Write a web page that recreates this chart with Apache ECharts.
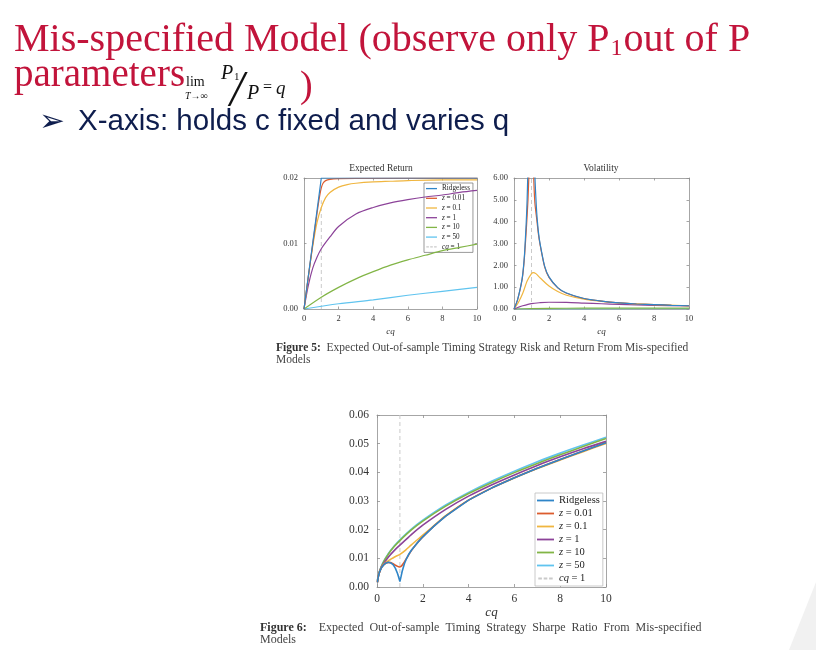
<!DOCTYPE html>
<html>
<head>
<meta charset="utf-8">
<script src="https://cdn.jsdelivr.net/npm/echarts@6/dist/echarts.min.js"></script>
<style>
html,body{margin:0;padding:0;background:#fff;}
#c{width:816px;height:650px;}
</style>
</head>
<body>
<div id="c"></div>
<script>
// ---------- data ----------
const seriesNames = ['Ridgeless', 'z = 0.01', 'z = 0.1', 'z = 1', 'z = 10', 'z = 50', 'cq = 1'];
const seriesColors = ['#2f85c8', '#dc5c2e', '#f0b640', '#8c4399', '#82b546', '#60c4ef', '#cacaca'];
const cqTicks = [0, 2, 4, 6, 8, 10];

// Figure 5 (left): Expected Return
const erRidgeless = [[0,0],[1,0.02],[10,0.02]];
const erZ001 = [[0,0],[0.5,0.0098],[0.8,0.0155],[0.9,0.0172],[1.0,0.0185],[1.1,0.0192],[1.25,0.0196],[1.5,0.0198],[2,0.0199],[3,0.01995],[10,0.02]];
const erZ01 = [[0,0],[0.25,0.0049],[0.5,0.0095],[0.75,0.0132],[1.0,0.0155],[1.25,0.017],[1.5,0.0178],[2,0.0186],[2.5,0.019],[3,0.0192],[4,0.0194],[5,0.0195],[6,0.0196],[8,0.0197],[10,0.0197]];
const erZ1 = [[0,0],[0.25,0.0036],[0.5,0.0062],[0.75,0.0079],[1,0.0092],[1.5,0.011],[2,0.0126],[3,0.0145],[4,0.0155],[5,0.0162],[6,0.0167],[7,0.0171],[8,0.0174],[9,0.0178],[10,0.0181]];
const erZ10 = [[0,0],[1,0.0018],[2,0.0033],[3,0.0046],[4,0.0057],[5,0.0067],[6,0.0075],[7,0.0082],[8,0.0089],[9,0.0094],[10,0.0099]];
const erZ50 = [[0,0],[2,0.0008],[4,0.0014],[6,0.0021],[8,0.0027],[10,0.0033]];
const erCqLine = [[1,0],[1,0.0166]];

// Figure 5 (right): Volatility
const volRidgeless = [[0,0],[0.2,0.42],[0.4,1.1],[0.5,1.6],[0.6,2.5],[0.7,4.0],[0.75,5.0],[0.8,6.6],[0.85,9],[1,'-'],[1.15,9],[1.2,6.0],[1.25,5.1],[1.3,4.4],[1.4,3.5],[1.5,2.95],[1.75,1.96],[2,1.47],[2.5,0.98],[3,0.73],[4,0.48],[5,0.36],[6,0.28],[7,0.23],[8,0.2],[9,0.17],[10,0.15]];
const volZ001 = [[0,0],[0.2,0.41],[0.4,1.08],[0.5,1.55],[0.6,2.4],[0.7,3.6],[0.8,5.0],[0.9,7.2],[1.0,9],[1.1,6.6],[1.15,5.5],[1.2,4.8],[1.3,4.1],[1.4,3.4],[1.5,2.9],[1.75,1.93],[2,1.45],[2.5,0.97],[3,0.72],[4,0.48],[5,0.36],[6,0.28],[7,0.23],[8,0.2],[9,0.17],[10,0.15]];
const volZ01 = [[0,0],[0.25,0.3],[0.5,0.72],[0.75,1.28],[1.0,1.62],[1.1,1.67],[1.25,1.62],[1.5,1.42],[2,1.05],[2.5,0.8],[3,0.63],[4,0.45],[5,0.35],[6,0.28],[8,0.2],[10,0.15]];
const volZ1 = [[0,0],[0.25,0.08],[0.5,0.15],[1,0.25],[1.5,0.29],[2,0.31],[3,0.3],[4,0.27],[5,0.24],[6,0.21],[8,0.17],[10,0.14]];
const volZ10 = [[0,0],[1,0.02],[3,0.035],[5,0.04],[10,0.04]];
const volZ50 = [[0,0],[5,0.01],[10,0.015]];
const volCqLine = [[1,0],[1,6]];

// Figure 6: Sharpe Ratio
const srRidgeless = [[0.02,0.0016],[0.05,0.0033],[0.1,0.0049],[0.15,0.006],[0.2,0.0068],[0.3,0.0078],[0.4,0.0084],[0.5,0.0086],[0.6,0.0084],[0.7,0.0078],[0.8,0.0066],[0.9,0.0046],[0.95,0.0033],[1.0,0.0019],[1.05,0.0036],[1.1,0.0055],[1.2,0.0082],[1.3,0.0101],[1.4,0.0116],[1.5,0.0128],[1.75,0.0153],[2,0.0175],[2.5,0.0213],[3,0.0247],[4,0.0303],[5,0.0345],[6,0.0381],[7,0.0414],[8,0.0445],[9,0.0474],[10,0.0503]];
const srZ001 = [[0.02,0.0016],[0.05,0.0033],[0.1,0.0049],[0.2,0.0068],[0.3,0.0078],[0.4,0.0084],[0.5,0.0086],[0.6,0.0085],[0.7,0.0081],[0.8,0.0076],[0.9,0.0072],[0.97,0.007],[1.05,0.0072],[1.15,0.0082],[1.3,0.0101],[1.5,0.0127],[1.75,0.0153],[2,0.0175],[2.5,0.0213],[3,0.0247],[4,0.0303],[5,0.0345],[6,0.0381],[7,0.0414],[8,0.0445],[9,0.0474],[10,0.0504]];
const srZ01 = [[0.02,0.0017],[0.05,0.0034],[0.1,0.005],[0.2,0.0069],[0.3,0.008],[0.4,0.0087],[0.5,0.0092],[0.6,0.0097],[0.75,0.0104],[1,0.0114],[1.25,0.0129],[1.5,0.0147],[1.75,0.0164],[2,0.0181],[2.5,0.0215],[3,0.0249],[4,0.0303],[5,0.0345],[6,0.038],[7,0.0413],[8,0.0443],[9,0.0472],[10,0.0501]];
const srZ1 = [[0.02,0.0018],[0.05,0.0035],[0.1,0.0051],[0.2,0.0071],[0.3,0.0083],[0.5,0.0105],[0.75,0.0127],[1,0.0146],[1.5,0.0183],[2,0.0216],[3,0.0271],[4,0.0317],[5,0.0356],[6,0.0391],[7,0.0424],[8,0.0454],[9,0.0482],[10,0.0508]];
const srZ10 = [[0.02,0.0022],[0.05,0.0036],[0.1,0.0052],[0.25,0.0082],[0.5,0.0115],[0.75,0.0141],[1,0.0162],[1.5,0.0199],[2,0.023],[3,0.0282],[4,0.0326],[5,0.0364],[6,0.0399],[7,0.0431],[8,0.0461],[9,0.049],[10,0.0518]];
const srZ50 = [[0.02,0.0023],[0.05,0.0037],[0.1,0.0053],[0.25,0.0083],[0.5,0.0117],[0.75,0.0143],[1,0.0165],[1.5,0.0202],[2,0.0233],[3,0.0286],[4,0.033],[5,0.0369],[6,0.0404],[7,0.0437],[8,0.0467],[9,0.0495],[10,0.0522]];
const srCqLine = [[1,0],[1,0.06]];

// ---------- build ----------
const SERIF = '"Liberation Serif", "DejaVu Serif", serif';
const SANS = '"Liberation Sans", Arial, sans-serif';
const AXC = '#8f8f8f';
const chart = echarts.init(document.getElementById('c'), null, {renderer: 'canvas'});

const grids = [
  {left: 304, top: 178, width: 173, height: 131},
  {left: 514, top: 178, width: 175, height: 131},
  {left: 377, top: 415, width: 229, height: 172}
];
const yCfg = [
  {max: 0.02, interval: 0.01, fs: 8.5},
  {max: 6, interval: 1, fs: 8.5},
  {max: 0.06, interval: 0.01, fs: 11.5}
];
const xFs = [8.5, 8.5, 11.5];
const nameFs = [9, 9, 13];

const xAxes = [], yAxes = [];
grids.forEach((g, i) => {
  const tickLen = i === 2 ? 3 : 2.5;
  xAxes.push({
    gridIndex: i, type: 'value', min: 0, max: 10, interval: 2, position: 'bottom',
    name: 'cq', nameLocation: 'middle', nameGap: i === 2 ? 19 : 18,
    nameTextStyle: {fontFamily: SERIF, fontStyle: 'italic', fontSize: nameFs[i], color: '#333'},
    axisLine: {show: true, onZero: false, lineStyle: {color: AXC, width: 0.8}},
    axisTick: {show: true, inside: true, length: tickLen, lineStyle: {color: AXC, width: 0.8}},
    axisLabel: {fontFamily: SERIF, fontSize: xFs[i], color: '#333', margin: i === 2 ? 6 : 5,
      formatter: v => cqTicks.indexOf(v) >= 0 ? String(v) : ''},
    splitLine: {show: false}
  });
  xAxes.push({
    gridIndex: i, type: 'value', min: 0, max: 10, interval: 2, position: 'top',
    axisLine: {show: true, onZero: false, lineStyle: {color: AXC, width: 0.8}},
    axisTick: {show: true, inside: true, length: tickLen, lineStyle: {color: AXC, width: 0.8}},
    axisLabel: {show: false}, splitLine: {show: false}
  });
  yAxes.push({
    gridIndex: i, type: 'value', min: 0, max: yCfg[i].max, interval: yCfg[i].interval, position: 'left',
    axisLine: {show: true, onZero: false, lineStyle: {color: AXC, width: 0.8}},
    axisTick: {show: true, inside: true, length: tickLen, lineStyle: {color: AXC, width: 0.8}},
    axisLabel: {fontFamily: SERIF, fontSize: yCfg[i].fs, color: '#333', margin: i === 2 ? 8 : 6,
      formatter: v => v.toFixed(2)},
    splitLine: {show: false}
  });
  yAxes.push({
    gridIndex: i, type: 'value', min: 0, max: yCfg[i].max, interval: yCfg[i].interval, position: 'right',
    axisLine: {show: true, onZero: false, lineStyle: {color: AXC, width: 0.8}},
    axisTick: {show: true, inside: true, length: tickLen, lineStyle: {color: AXC, width: 0.8}},
    axisLabel: {show: false}, splitLine: {show: false}
  });
});

function mk(name, data, gi, opts) {
  opts = opts || {};
  const idx = seriesNames.indexOf(name);
  const dashed = name === 'cq = 1';
  return {
    name: name, type: 'line', data: data,
    xAxisIndex: gi * 2, yAxisIndex: gi * 2,
    symbol: 'none', showSymbol: false, smooth: opts.smooth === undefined ? 0.3 : opts.smooth,
    clip: true, connectNulls: false, animation: false,
    z: dashed ? 1 : 2 + (6 - idx),
    lineStyle: {color: seriesColors[idx], width: dashed ? 1 : (gi === 2 ? 1.6 : 1.2), type: dashed ? [4, 3] : 'solid'},
    itemStyle: {color: seriesColors[idx]}
  };
}

const series = [
  mk('cq = 1', erCqLine, 0, {smooth: false}),
  mk('Ridgeless', erRidgeless, 0, {smooth: false}),
  mk('z = 0.01', erZ001, 0),
  mk('z = 0.1', erZ01, 0),
  mk('z = 1', erZ1, 0),
  mk('z = 10', erZ10, 0),
  mk('z = 50', erZ50, 0),

  mk('cq = 1', volCqLine, 1, {smooth: false}),
  mk('Ridgeless', volRidgeless, 1, {smooth: 0.2}),
  mk('z = 0.01', volZ001, 1, {smooth: 0.2}),
  mk('z = 0.1', volZ01, 1),
  mk('z = 1', volZ1, 1),
  mk('z = 10', volZ10, 1),
  mk('z = 50', volZ50, 1),

  mk('cq = 1', srCqLine, 2, {smooth: false}),
  mk('Ridgeless', srRidgeless, 2, {smooth: false}),
  mk('z = 0.01', srZ001, 2, {smooth: 0.2}),
  mk('z = 0.1', srZ01, 2),
  mk('z = 1', srZ1, 2),
  mk('z = 10', srZ10, 2),
  mk('z = 50', srZ50, 2)
];

function legendFmt(name) {
  if (name === 'Ridgeless') return '{n|Ridgeless}';
  if (name.indexOf('cq') === 0) return '{i|cq}{n| = 1}';
  return '{i|z}{n|' + name.slice(1) + '}';
}
function legendRich(fs, lh) {
  return {
    n: {fontFamily: SERIF, fontSize: fs, color: '#222', lineHeight: lh},
    i: {fontFamily: SERIF, fontSize: fs, fontStyle: 'italic', color: '#222', lineHeight: lh}
  };
}
const DASH_ICON = 'path://M0,0h4v2h-4z M6,0h4v2h-4z M12,0h4v2h-4z';
function legendData() {
  return seriesNames.map(n => n === 'cq = 1' ? {name: n, icon: DASH_ICON} : {name: n, icon: 'rect'});
}

const legends = [
  {left: 424, top: 183, orient: 'vertical', data: legendData(), formatter: legendFmt,
   itemWidth: 11, itemHeight: 1.3, itemGap: 1.5, padding: [1.5, 3, 1.5, 2],
   backgroundColor: '#fff', borderColor: '#6e6e6e', borderWidth: 0.7,
   textStyle: {fontFamily: SERIF, fontSize: 7.2, color: '#222', lineHeight: 8.2, rich: legendRich(7.2, 8.2)},
   selectedMode: false},
  {left: 535, top: 493, orient: 'vertical', data: legendData(), formatter: legendFmt,
   itemWidth: 17, itemHeight: 1.8, itemGap: 2, padding: [2, 3, 2, 2],
   backgroundColor: '#fff', borderColor: '#bdbdbd', borderWidth: 0.8,
   textStyle: {fontFamily: SERIF, fontSize: 10.5, color: '#222', lineHeight: 11, rich: legendRich(10.5, 11)},
   selectedMode: false}
];

// text helper: place by baseline (converted to a middle-anchored y, empirical offset)
function txtB(text, x, baseline, size, o) {
  o = o || {};
  return {
    type: 'text', silent: true, z: 100,
    style: Object.assign({
      text: text, x: x, y: baseline - 0.17 * size,
      fontFamily: SERIF, fontSize: size, fill: '#222',
      align: 'left', textAlign: 'left',
      verticalAlign: 'middle', textVerticalAlign: 'middle'
    }, o)
  };
}
const mctx = document.createElement('canvas').getContext('2d');
function tw(t, size, fam) { mctx.font = size + 'px ' + (fam || SERIF); return mctx.measureText(t).width; }

const RED = '#c2143b';
const NAVY = '#0e1d4d';
const t1a = 'Mis-specified Model (observe only P';
const t1b = '1';
const t1c = 'out of P';
const xA = 14;
const xB = xA + tw(t1a, 40) + 1;
const xC = xB + tw(t1b, 24) + 1;

const graphic = [
  {type: 'polygon', silent: true, z: 0, shape: {points: [[816, 582], [816, 650], [789, 650]]}, style: {fill: '#f1f1f1'}},
  // slide title
  txtB(t1a, xA, 47, 40, {fill: RED}),
  txtB(t1b, xB, 53, 24, {fill: RED}),
  txtB(t1c, xC, 47, 40, {fill: RED}),
  txtB('parameters', 14, 82, 39, {fill: RED}),
  txtB('lim', 186, 85, 14, {fill: '#111'}),
  txtB('T\u2192\u221E', 185, 98, 10, {fill: '#111', fontStyle: 'italic'}),
  txtB('P', 221, 77, 20, {fill: '#111', fontStyle: 'italic'}),
  txtB('1', 234, 79, 11, {fill: '#111'}),
  txtB('/', 230, 100, 50, {fill: '#111', fontStyle: 'italic'}),
  txtB('P', 247, 97, 20, {fill: '#111', fontStyle: 'italic'}),
  txtB('=', 263, 91, 16, {fill: '#111'}),
  txtB('q', 276, 92, 19, {fill: '#111', fontStyle: 'italic'}),
  txtB(')', 300, 93, 38, {fill: RED}),
  // bullet
  txtB('\u27A2', 39, 128, 31, {fontFamily: '"DejaVu Sans", sans-serif', fill: NAVY}),
  txtB('X-axis: holds c fixed and varies q', 78, 127, 29.5, {fontFamily: SANS, fill: NAVY}),
  // chart titles
  txtB('Expected Return', 381, 170, 9.5, {align: 'center', textAlign: 'center', fill: '#333'}),
  txtB('Volatility', 601, 170, 9.5, {align: 'center', textAlign: 'center', fill: '#333'}),
  // captions
  txtB('{b|Figure 5:}{n|  Expected Out-of-sample Timing Strategy Risk and Return From Mis-specified}', 276, 350, 11.5, {
    rich: {
      b: {fontFamily: SERIF, fontSize: 11.5, fontWeight: 'bold', fill: '#333'},
      n: {fontFamily: SERIF, fontSize: 11.5, fill: '#444'}
    }
  }),
  txtB('Models', 276, 362, 11.5, {fill: '#444'}),
  txtB('{b|Figure 6:}{n|    Expected  Out-of-sample  Timing  Strategy  Sharpe  Ratio  From  Mis-specified}', 260, 630, 12, {
    rich: {
      b: {fontFamily: SERIF, fontSize: 12, fontWeight: 'bold', fill: '#333'},
      n: {fontFamily: SERIF, fontSize: 12, fill: '#444'}
    }
  }),
  txtB('Models', 260, 642, 12, {fill: '#444'})
];

chart.setOption({
  backgroundColor: '#ffffff',
  animation: false,
  grid: grids,
  xAxis: xAxes,
  yAxis: yAxes,
  legend: legends,
  series: series,
  graphic: graphic
});
</script>
</body>
</html>
